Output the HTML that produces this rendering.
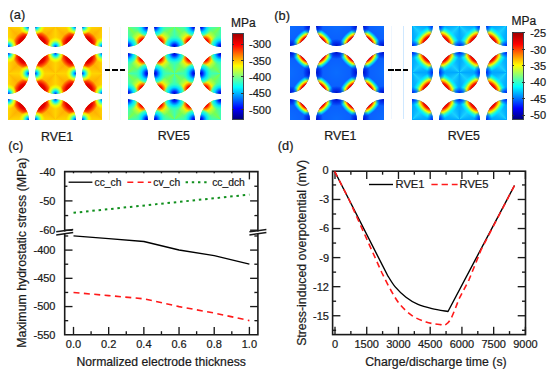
<!DOCTYPE html>
<html><head><meta charset="utf-8"><style>
*{margin:0;padding:0;box-sizing:border-box}
html,body{width:550px;height:374px;background:#fff;overflow:hidden}
body{position:relative;font-family:"Liberation Sans", sans-serif;color:#1a1a1a}
.t{position:absolute;white-space:nowrap;line-height:1;-webkit-text-stroke:0.22px #1a1a1a}
.rve{position:absolute;overflow:hidden}
.d{position:absolute;border-radius:50%;overflow:hidden}
.d i{position:absolute;left:0;top:0;right:0;bottom:0;border-radius:50%}
.d .rim{transform:rotate(45deg)}
/* RVE1 (a) */
.r1a .b{background:radial-gradient(circle closest-side, rgba(255,210,0,0.6) 0%, rgba(255,200,0,0) 60%), conic-gradient(#ffd400 0deg, #ffae00 45deg, #ffd400 90deg, #ffae00 135deg, #ffd400 180deg, #ffae00 225deg, #ffd400 270deg, #ffae00 315deg, #ffd400 360deg)}
.r1a .rim{background:radial-gradient(ellipse 12px 9px at 50% -0.5px, #d00000 0%, #e80000 42%, #ff5000 72%, rgba(255,170,0,0) 100%),radial-gradient(ellipse 12px 9px at 50% calc(100% + 0.5px), #d00000 0%, #e80000 42%, #ff5000 72%, rgba(255,170,0,0) 100%),radial-gradient(ellipse 9px 12px at -0.5px 50%, #d00000 0%, #e80000 42%, #ff5000 72%, rgba(255,170,0,0) 100%),radial-gradient(ellipse 9px 12px at calc(100% + 0.5px) 50%, #d00000 0%, #e80000 42%, #ff5000 72%, rgba(255,170,0,0) 100%)}
.r1a .sp{background:radial-gradient(ellipse 8.5px 10px at 50% 0, #0030ff 0%, #0090ff 16%, #00f0ff 32%, #80ff80 50%, #f0ff00 70%, rgba(255,210,0,0) 100%),radial-gradient(ellipse 8.5px 10px at 50% 100%, #0030ff 0%, #0090ff 16%, #00f0ff 32%, #80ff80 50%, #f0ff00 70%, rgba(255,210,0,0) 100%),radial-gradient(ellipse 10px 8.5px at 0 50%, #0030ff 0%, #0090ff 16%, #00f0ff 32%, #80ff80 50%, #f0ff00 70%, rgba(255,210,0,0) 100%),radial-gradient(ellipse 10px 8.5px at 100% 50%, #0030ff 0%, #0090ff 16%, #00f0ff 32%, #80ff80 50%, #f0ff00 70%, rgba(255,210,0,0) 100%)}
/* RVE5 (a) */
.r5a .b{background:conic-gradient(#40ffb0 0deg, #78ff50 45deg, #40ffb0 90deg, #78ff50 135deg, #40ffb0 180deg, #78ff50 225deg, #40ffb0 270deg, #78ff50 315deg, #40ffb0 360deg)}
.r5a .rim{background:radial-gradient(ellipse 14px 13px at 50% -1.5px, #e00000 0%, #ff1000 24%, #ff8000 38%, #f8f000 54%, #a8ff40 74%, rgba(100,255,100,0) 100%),radial-gradient(ellipse 14px 13px at 50% calc(100% + 1.5px), #e00000 0%, #ff1000 24%, #ff8000 38%, #f8f000 54%, #a8ff40 74%, rgba(100,255,100,0) 100%),radial-gradient(ellipse 13px 14px at -1.5px 50%, #e00000 0%, #ff1000 24%, #ff8000 38%, #f8f000 54%, #a8ff40 74%, rgba(100,255,100,0) 100%),radial-gradient(ellipse 13px 14px at calc(100% + 1.5px) 50%, #e00000 0%, #ff1000 24%, #ff8000 38%, #f8f000 54%, #a8ff40 74%, rgba(100,255,100,0) 100%)}
.r5a .sp{background:radial-gradient(ellipse 11px 12px at 50% 0, #0000c0 0%, #0020ff 22%, #0080ff 38%, #00e0ff 56%, #30ffc0 78%, rgba(60,255,140,0) 100%),radial-gradient(ellipse 11px 12px at 50% 100%, #0000c0 0%, #0020ff 22%, #0080ff 38%, #00e0ff 56%, #30ffc0 78%, rgba(60,255,140,0) 100%),radial-gradient(ellipse 12px 11px at 0 50%, #0000c0 0%, #0020ff 22%, #0080ff 38%, #00e0ff 56%, #30ffc0 78%, rgba(60,255,140,0) 100%),radial-gradient(ellipse 12px 11px at 100% 50%, #0000c0 0%, #0020ff 22%, #0080ff 38%, #00e0ff 56%, #30ffc0 78%, rgba(60,255,140,0) 100%)}
/* RVE1 (b) */
.r1b .b{background:radial-gradient(circle closest-side, #0a6cff 0%, #0a60ff 70%, #0650ff 100%)}
.r1b .rim{background:radial-gradient(ellipse 17px 10px at 50% -2px, #e00000 0%, #f41000 34%, #ff9000 46%, #f0ff00 57%, #50ff90 69%, #00d0ff 82%, rgba(0,120,255,0) 100%),radial-gradient(ellipse 17px 10px at 50% calc(100% + 2px), #e00000 0%, #f41000 34%, #ff9000 46%, #f0ff00 57%, #50ff90 69%, #00d0ff 82%, rgba(0,120,255,0) 100%),radial-gradient(ellipse 10px 17px at -2px 50%, #e00000 0%, #f41000 34%, #ff9000 46%, #f0ff00 57%, #50ff90 69%, #00d0ff 82%, rgba(0,120,255,0) 100%),radial-gradient(ellipse 10px 17px at calc(100% + 2px) 50%, #e00000 0%, #f41000 34%, #ff9000 46%, #f0ff00 57%, #50ff90 69%, #00d0ff 82%, rgba(0,120,255,0) 100%)}
.r1b .sp{background:radial-gradient(ellipse 10px 7px at 50% 0, #0010c0 0%, #0028e8 40%, rgba(10,96,255,0) 100%),radial-gradient(ellipse 10px 7px at 50% 100%, #0010c0 0%, #0028e8 40%, rgba(10,96,255,0) 100%),radial-gradient(ellipse 7px 10px at 0 50%, #0010c0 0%, #0028e8 40%, rgba(10,96,255,0) 100%),radial-gradient(ellipse 7px 10px at 100% 50%, #0010c0 0%, #0028e8 40%, rgba(10,96,255,0) 100%)}
/* RVE5 (b) */
.r5b .b{background:conic-gradient(#00a8ff 0deg, #18d0ff 45deg, #00a8ff 90deg, #18d0ff 135deg, #00a8ff 180deg, #18d0ff 225deg, #00a8ff 270deg, #18d0ff 315deg, #00a8ff 360deg)}
.r5b .rim{background:radial-gradient(ellipse 20px 13px at 50% -2px, #e00000 0%, #f41000 32%, #ff9000 44%, #f0ff00 55%, #60ff90 67%, #00f0ff 81%, rgba(0,200,255,0) 100%),radial-gradient(ellipse 20px 13px at 50% calc(100% + 2px), #e00000 0%, #f41000 32%, #ff9000 44%, #f0ff00 55%, #60ff90 67%, #00f0ff 81%, rgba(0,200,255,0) 100%),radial-gradient(ellipse 13px 20px at -2px 50%, #e00000 0%, #f41000 32%, #ff9000 44%, #f0ff00 55%, #60ff90 67%, #00f0ff 81%, rgba(0,200,255,0) 100%),radial-gradient(ellipse 13px 20px at calc(100% + 2px) 50%, #e00000 0%, #f41000 32%, #ff9000 44%, #f0ff00 55%, #60ff90 67%, #00f0ff 81%, rgba(0,200,255,0) 100%)}
.r5b .sp{background:radial-gradient(ellipse 9px 6px at 50% 0, #0020e0 0%, #0050ff 35%, rgba(0,176,255,0) 100%),radial-gradient(ellipse 9px 6px at 50% 100%, #0020e0 0%, #0050ff 35%, rgba(0,176,255,0) 100%),radial-gradient(ellipse 6px 9px at 0 50%, #0020e0 0%, #0050ff 35%, rgba(0,176,255,0) 100%),radial-gradient(ellipse 6px 9px at 100% 50%, #0020e0 0%, #0050ff 35%, rgba(0,176,255,0) 100%)}
.cb{position:absolute;border:1px solid #3c4650;background:linear-gradient(to bottom,#a00000 0%,#ff0000 13%,#ff8000 25%,#ffff00 37.5%,#00ffff 62.5%,#0000ff 87.5%,#000080 100%)}
.dash{position:absolute;height:2px;background:#000}
</style></head>
<body>
<svg width="550" height="374" viewBox="0 0 550 374" style="position:absolute;left:0;top:0" font-family="Liberation Sans, sans-serif" fill="#1a1a1a"><style>text{stroke:#1a1a1a;stroke-width:0.22px}</style><line x1="73.50" y1="334.70" x2="73.50" y2="326.90" stroke="#1a1a1a" stroke-width="1.35" />
<line x1="73.50" y1="171.60" x2="73.50" y2="179.40" stroke="#1a1a1a" stroke-width="1.35" />
<line x1="91.09" y1="334.70" x2="91.09" y2="331.20" stroke="#1a1a1a" stroke-width="1.35" />
<line x1="91.09" y1="171.60" x2="91.09" y2="175.10" stroke="#1a1a1a" stroke-width="1.35" />
<line x1="108.68" y1="334.70" x2="108.68" y2="326.90" stroke="#1a1a1a" stroke-width="1.35" />
<line x1="108.68" y1="171.60" x2="108.68" y2="179.40" stroke="#1a1a1a" stroke-width="1.35" />
<line x1="126.27" y1="334.70" x2="126.27" y2="331.20" stroke="#1a1a1a" stroke-width="1.35" />
<line x1="126.27" y1="171.60" x2="126.27" y2="175.10" stroke="#1a1a1a" stroke-width="1.35" />
<line x1="143.86" y1="334.70" x2="143.86" y2="326.90" stroke="#1a1a1a" stroke-width="1.35" />
<line x1="143.86" y1="171.60" x2="143.86" y2="179.40" stroke="#1a1a1a" stroke-width="1.35" />
<line x1="161.45" y1="334.70" x2="161.45" y2="331.20" stroke="#1a1a1a" stroke-width="1.35" />
<line x1="161.45" y1="171.60" x2="161.45" y2="175.10" stroke="#1a1a1a" stroke-width="1.35" />
<line x1="179.04" y1="334.70" x2="179.04" y2="326.90" stroke="#1a1a1a" stroke-width="1.35" />
<line x1="179.04" y1="171.60" x2="179.04" y2="179.40" stroke="#1a1a1a" stroke-width="1.35" />
<line x1="196.63" y1="334.70" x2="196.63" y2="331.20" stroke="#1a1a1a" stroke-width="1.35" />
<line x1="196.63" y1="171.60" x2="196.63" y2="175.10" stroke="#1a1a1a" stroke-width="1.35" />
<line x1="214.22" y1="334.70" x2="214.22" y2="326.90" stroke="#1a1a1a" stroke-width="1.35" />
<line x1="214.22" y1="171.60" x2="214.22" y2="179.40" stroke="#1a1a1a" stroke-width="1.35" />
<line x1="231.81" y1="334.70" x2="231.81" y2="331.20" stroke="#1a1a1a" stroke-width="1.35" />
<line x1="231.81" y1="171.60" x2="231.81" y2="175.10" stroke="#1a1a1a" stroke-width="1.35" />
<line x1="249.40" y1="334.70" x2="249.40" y2="326.90" stroke="#1a1a1a" stroke-width="1.35" />
<line x1="249.40" y1="171.60" x2="249.40" y2="179.40" stroke="#1a1a1a" stroke-width="1.35" />
<line x1="64.70" y1="186.25" x2="68.20" y2="186.25" stroke="#1a1a1a" stroke-width="1.35" />
<line x1="257.90" y1="186.25" x2="254.40" y2="186.25" stroke="#1a1a1a" stroke-width="1.35" />
<line x1="64.70" y1="200.90" x2="72.50" y2="200.90" stroke="#1a1a1a" stroke-width="1.35" />
<line x1="257.90" y1="200.90" x2="250.10" y2="200.90" stroke="#1a1a1a" stroke-width="1.35" />
<line x1="64.70" y1="215.55" x2="68.20" y2="215.55" stroke="#1a1a1a" stroke-width="1.35" />
<line x1="257.90" y1="215.55" x2="254.40" y2="215.55" stroke="#1a1a1a" stroke-width="1.35" />
<line x1="64.70" y1="230.20" x2="72.50" y2="230.20" stroke="#1a1a1a" stroke-width="1.35" />
<line x1="257.90" y1="230.20" x2="250.10" y2="230.20" stroke="#1a1a1a" stroke-width="1.35" />
<line x1="64.70" y1="235.98" x2="68.20" y2="235.98" stroke="#1a1a1a" stroke-width="1.35" />
<line x1="257.90" y1="235.98" x2="254.40" y2="235.98" stroke="#1a1a1a" stroke-width="1.35" />
<line x1="64.70" y1="250.10" x2="72.50" y2="250.10" stroke="#1a1a1a" stroke-width="1.35" />
<line x1="257.90" y1="250.10" x2="250.10" y2="250.10" stroke="#1a1a1a" stroke-width="1.35" />
<line x1="64.70" y1="264.22" x2="68.20" y2="264.22" stroke="#1a1a1a" stroke-width="1.35" />
<line x1="257.90" y1="264.22" x2="254.40" y2="264.22" stroke="#1a1a1a" stroke-width="1.35" />
<line x1="64.70" y1="278.33" x2="72.50" y2="278.33" stroke="#1a1a1a" stroke-width="1.35" />
<line x1="257.90" y1="278.33" x2="250.10" y2="278.33" stroke="#1a1a1a" stroke-width="1.35" />
<line x1="64.70" y1="292.45" x2="68.20" y2="292.45" stroke="#1a1a1a" stroke-width="1.35" />
<line x1="257.90" y1="292.45" x2="254.40" y2="292.45" stroke="#1a1a1a" stroke-width="1.35" />
<line x1="64.70" y1="306.57" x2="72.50" y2="306.57" stroke="#1a1a1a" stroke-width="1.35" />
<line x1="257.90" y1="306.57" x2="250.10" y2="306.57" stroke="#1a1a1a" stroke-width="1.35" />
<line x1="64.70" y1="320.68" x2="68.20" y2="320.68" stroke="#1a1a1a" stroke-width="1.35" />
<line x1="257.90" y1="320.68" x2="254.40" y2="320.68" stroke="#1a1a1a" stroke-width="1.35" />
<rect x="67.4" y="173.3" width="179.8" height="17.5" fill="#fff"/>
<path d="M64.7,233.79999999999998 L64.7,334.7 L257.9,334.7 L257.9,233.79999999999998 M257.9,230.6 L257.9,171.6 L64.7,171.6 L64.7,230.6" fill="none" stroke="#1a1a1a" stroke-width="1.6" stroke-linecap="square"/>
<line x1="56.20" y1="231.80" x2="73.20" y2="229.40" stroke="#1a1a1a" stroke-width="1.5" />
<line x1="56.20" y1="235.00" x2="73.20" y2="232.60" stroke="#1a1a1a" stroke-width="1.5" />
<line x1="249.40" y1="231.80" x2="266.40" y2="229.40" stroke="#1a1a1a" stroke-width="1.5" />
<line x1="249.40" y1="235.00" x2="266.40" y2="232.60" stroke="#1a1a1a" stroke-width="1.5" />
<text x="55.50" y="175.50" font-size="11" text-anchor="end" >-40</text>
<text x="55.50" y="204.80" font-size="11" text-anchor="end" >-50</text>
<text x="55.50" y="234.10" font-size="11" text-anchor="end" >-60</text>
<text x="55.50" y="254.00" font-size="11" text-anchor="end" >-400</text>
<text x="55.50" y="282.23" font-size="11" text-anchor="end" >-450</text>
<text x="55.50" y="310.47" font-size="11" text-anchor="end" >-500</text>
<text x="55.50" y="338.70" font-size="11" text-anchor="end" >-550</text>
<text x="73.50" y="347.60" font-size="11" text-anchor="middle" >0.0</text>
<text x="108.68" y="347.60" font-size="11" text-anchor="middle" >0.2</text>
<text x="143.86" y="347.60" font-size="11" text-anchor="middle" >0.4</text>
<text x="179.04" y="347.60" font-size="11" text-anchor="middle" >0.6</text>
<text x="214.22" y="347.60" font-size="11" text-anchor="middle" >0.8</text>
<text x="249.40" y="347.60" font-size="11" text-anchor="middle" >1.0</text>
<text x="161.20" y="366.20" font-size="12.2" text-anchor="middle" >Normalized electrode thickness</text>
<text x="0.00" y="0.00" font-size="12.35" text-anchor="middle" transform="translate(26.2,252.7) rotate(-90)">Maximum hydrostatic stress (MPa)</text>
<line x1="68.60" y1="182.20" x2="92.40" y2="182.20" stroke="#000" stroke-width="1.3" />
<text x="94.50" y="185.80" font-size="10.3" text-anchor="start" >cc_ch</text>
<line x1="127.30" y1="182.20" x2="151.20" y2="182.20" stroke="#ff1a1a" stroke-width="1.6" stroke-dasharray="6,4.3"/>
<text x="153.30" y="185.80" font-size="10.3" text-anchor="start" >cv_ch</text>
<line x1="185.60" y1="182.20" x2="208.00" y2="182.20" stroke="#11901e" stroke-width="2" stroke-dasharray="2.4,3.8"/>
<text x="212.20" y="185.80" font-size="10.3" text-anchor="start" >cc_dch</text>
<polyline points="73.50,235.90 108.68,238.60 143.86,241.50 179.04,250.00 214.22,255.60 249.40,264.20" fill="none" stroke="#000" stroke-width="1.3" stroke-linejoin="round" />
<polyline points="73.50,292.50 108.68,295.60 143.86,298.80 179.04,306.60 214.22,313.00 249.40,320.60" fill="none" stroke="#ff1a1a" stroke-width="1.6" stroke-linejoin="round" stroke-dasharray="6,4.4"/>
<polyline points="73.50,212.80 249.40,194.60" fill="none" stroke="#11901e" stroke-width="2" stroke-linejoin="round" stroke-dasharray="2.5,3.8"/>
<rect x="332.6" y="171.2" width="192.89999999999998" height="163.40000000000003" fill="none" stroke="#1a1a1a" stroke-width="1.6"/>
<line x1="335.00" y1="334.60" x2="335.00" y2="326.80" stroke="#1a1a1a" stroke-width="1.35" />
<line x1="335.00" y1="171.20" x2="335.00" y2="179.00" stroke="#1a1a1a" stroke-width="1.35" />
<line x1="350.87" y1="334.60" x2="350.87" y2="331.10" stroke="#1a1a1a" stroke-width="1.35" />
<line x1="350.87" y1="171.20" x2="350.87" y2="174.70" stroke="#1a1a1a" stroke-width="1.35" />
<line x1="366.73" y1="334.60" x2="366.73" y2="326.80" stroke="#1a1a1a" stroke-width="1.35" />
<line x1="366.73" y1="171.20" x2="366.73" y2="179.00" stroke="#1a1a1a" stroke-width="1.35" />
<line x1="382.60" y1="334.60" x2="382.60" y2="331.10" stroke="#1a1a1a" stroke-width="1.35" />
<line x1="382.60" y1="171.20" x2="382.60" y2="174.70" stroke="#1a1a1a" stroke-width="1.35" />
<line x1="398.47" y1="334.60" x2="398.47" y2="326.80" stroke="#1a1a1a" stroke-width="1.35" />
<line x1="398.47" y1="171.20" x2="398.47" y2="179.00" stroke="#1a1a1a" stroke-width="1.35" />
<line x1="414.33" y1="334.60" x2="414.33" y2="331.10" stroke="#1a1a1a" stroke-width="1.35" />
<line x1="414.33" y1="171.20" x2="414.33" y2="174.70" stroke="#1a1a1a" stroke-width="1.35" />
<line x1="430.20" y1="334.60" x2="430.20" y2="326.80" stroke="#1a1a1a" stroke-width="1.35" />
<line x1="430.20" y1="171.20" x2="430.20" y2="179.00" stroke="#1a1a1a" stroke-width="1.35" />
<line x1="446.07" y1="334.60" x2="446.07" y2="331.10" stroke="#1a1a1a" stroke-width="1.35" />
<line x1="446.07" y1="171.20" x2="446.07" y2="174.70" stroke="#1a1a1a" stroke-width="1.35" />
<line x1="461.93" y1="334.60" x2="461.93" y2="326.80" stroke="#1a1a1a" stroke-width="1.35" />
<line x1="461.93" y1="171.20" x2="461.93" y2="179.00" stroke="#1a1a1a" stroke-width="1.35" />
<line x1="477.80" y1="334.60" x2="477.80" y2="331.10" stroke="#1a1a1a" stroke-width="1.35" />
<line x1="477.80" y1="171.20" x2="477.80" y2="174.70" stroke="#1a1a1a" stroke-width="1.35" />
<line x1="493.67" y1="334.60" x2="493.67" y2="326.80" stroke="#1a1a1a" stroke-width="1.35" />
<line x1="493.67" y1="171.20" x2="493.67" y2="179.00" stroke="#1a1a1a" stroke-width="1.35" />
<line x1="509.53" y1="334.60" x2="509.53" y2="331.10" stroke="#1a1a1a" stroke-width="1.35" />
<line x1="509.53" y1="171.20" x2="509.53" y2="174.70" stroke="#1a1a1a" stroke-width="1.35" />
<line x1="525.40" y1="334.60" x2="525.40" y2="326.80" stroke="#1a1a1a" stroke-width="1.35" />
<line x1="525.40" y1="171.20" x2="525.40" y2="179.00" stroke="#1a1a1a" stroke-width="1.35" />
<line x1="332.60" y1="184.94" x2="336.10" y2="184.94" stroke="#1a1a1a" stroke-width="1.35" />
<line x1="525.50" y1="184.94" x2="522.00" y2="184.94" stroke="#1a1a1a" stroke-width="1.35" />
<line x1="332.60" y1="199.47" x2="340.40" y2="199.47" stroke="#1a1a1a" stroke-width="1.35" />
<line x1="525.50" y1="199.47" x2="517.70" y2="199.47" stroke="#1a1a1a" stroke-width="1.35" />
<line x1="332.60" y1="214.00" x2="336.10" y2="214.00" stroke="#1a1a1a" stroke-width="1.35" />
<line x1="525.50" y1="214.00" x2="522.00" y2="214.00" stroke="#1a1a1a" stroke-width="1.35" />
<line x1="332.60" y1="228.54" x2="340.40" y2="228.54" stroke="#1a1a1a" stroke-width="1.35" />
<line x1="525.50" y1="228.54" x2="517.70" y2="228.54" stroke="#1a1a1a" stroke-width="1.35" />
<line x1="332.60" y1="243.07" x2="336.10" y2="243.07" stroke="#1a1a1a" stroke-width="1.35" />
<line x1="525.50" y1="243.07" x2="522.00" y2="243.07" stroke="#1a1a1a" stroke-width="1.35" />
<line x1="332.60" y1="257.61" x2="340.40" y2="257.61" stroke="#1a1a1a" stroke-width="1.35" />
<line x1="525.50" y1="257.61" x2="517.70" y2="257.61" stroke="#1a1a1a" stroke-width="1.35" />
<line x1="332.60" y1="272.14" x2="336.10" y2="272.14" stroke="#1a1a1a" stroke-width="1.35" />
<line x1="525.50" y1="272.14" x2="522.00" y2="272.14" stroke="#1a1a1a" stroke-width="1.35" />
<line x1="332.60" y1="286.68" x2="340.40" y2="286.68" stroke="#1a1a1a" stroke-width="1.35" />
<line x1="525.50" y1="286.68" x2="517.70" y2="286.68" stroke="#1a1a1a" stroke-width="1.35" />
<line x1="332.60" y1="301.22" x2="336.10" y2="301.22" stroke="#1a1a1a" stroke-width="1.35" />
<line x1="525.50" y1="301.22" x2="522.00" y2="301.22" stroke="#1a1a1a" stroke-width="1.35" />
<line x1="332.60" y1="315.75" x2="340.40" y2="315.75" stroke="#1a1a1a" stroke-width="1.35" />
<line x1="525.50" y1="315.75" x2="517.70" y2="315.75" stroke="#1a1a1a" stroke-width="1.35" />
<line x1="332.60" y1="330.28" x2="336.10" y2="330.28" stroke="#1a1a1a" stroke-width="1.35" />
<line x1="525.50" y1="330.28" x2="522.00" y2="330.28" stroke="#1a1a1a" stroke-width="1.35" />
<text x="328.60" y="174.30" font-size="11" text-anchor="end" >0</text>
<text x="329.00" y="203.37" font-size="11" text-anchor="end" >-3</text>
<text x="329.00" y="232.44" font-size="11" text-anchor="end" >-6</text>
<text x="329.00" y="261.51" font-size="11" text-anchor="end" >-9</text>
<text x="329.00" y="290.58" font-size="11" text-anchor="end" >-12</text>
<text x="329.00" y="319.65" font-size="11" text-anchor="end" >-15</text>
<text x="335.00" y="347.80" font-size="11" text-anchor="middle" >0</text>
<text x="366.73" y="347.80" font-size="11" text-anchor="middle" >1500</text>
<text x="398.47" y="347.80" font-size="11" text-anchor="middle" >3000</text>
<text x="430.20" y="347.80" font-size="11" text-anchor="middle" >4500</text>
<text x="461.93" y="347.80" font-size="11" text-anchor="middle" >6000</text>
<text x="493.67" y="347.80" font-size="11" text-anchor="middle" >7500</text>
<text x="525.40" y="347.80" font-size="11" text-anchor="middle" >9000</text>
<text x="435.90" y="366.20" font-size="12.3" text-anchor="middle" >Charge/discharge time (s)</text>
<text x="0.00" y="0.00" font-size="12.3" text-anchor="middle" transform="translate(306.4,252.9) rotate(-90)">Stress-induced overpotential (mV)</text>
<line x1="369.00" y1="184.50" x2="393.00" y2="184.50" stroke="#000" stroke-width="1.4" />
<text x="395.50" y="188.40" font-size="11.2" text-anchor="start" >RVE1</text>
<line x1="431.40" y1="184.50" x2="457.60" y2="184.50" stroke="#ff1a1a" stroke-width="1.6" stroke-dasharray="6.3,3.9"/>
<text x="459.50" y="188.40" font-size="11.2" text-anchor="start" >RVE5</text>
<path d="M334.6,171.3 L387.5,275.3  C388.75,277.18 391.92,282.95 395.00,286.60 C398.08,290.25 402.17,294.23 406.00,297.20 C409.83,300.17 413.67,302.50 418.00,304.40 C422.33,306.30 427.00,307.42 432.00,308.60 C437.00,309.78 445.33,311.02 448.00,311.50 L514.5,185.5" fill="none" stroke="#000" stroke-width="1.4" stroke-linejoin="round"/>
<path d="M334.6,171.3 L349,199.5 L382,273  C383.50,275.92 388.00,285.25 391.00,290.50 C394.00,295.75 396.50,300.32 400.00,304.50 C403.50,308.68 407.67,312.68 412.00,315.60 C416.33,318.52 421.33,320.50 426.00,322.00 C430.67,323.50 436.67,324.20 440.00,324.60 C443.33,325.00 444.08,325.58 446.00,324.40 C447.92,323.22 449.33,321.73 451.50,317.50 C453.67,313.27 457.75,302.08 459.00,299.00 L469,279.8 L481,250 L514.5,185.5" fill="none" stroke="#ff1a1a" stroke-width="1.6" stroke-linejoin="round" stroke-dasharray="6,4"/></svg>
<div class="t" style="left:9.6px;top:8.5px;font-size:12.8px;">(a)</div>
<div class="t" style="left:274.3px;top:9.7px;font-size:12.8px;">(b)</div>
<div class="t" style="left:8.3px;top:140.1px;font-size:12.8px;">(c)</div>
<div class="t" style="left:277.8px;top:139.8px;font-size:12.8px;">(d)</div>
<div class="rve r1a" style="left:8px;top:26.5px;width:94px;height:93.2px">
<div class="d" style="left:-20.50px;top:-20.50px;width:41.00px;height:41.00px"><i class="b"></i><i class="rim"></i><i class="sp"></i></div>
<div class="d" style="left:26.50px;top:-20.50px;width:41.00px;height:41.00px"><i class="b"></i><i class="rim"></i><i class="sp"></i></div>
<div class="d" style="left:73.50px;top:-20.50px;width:41.00px;height:41.00px"><i class="b"></i><i class="rim"></i><i class="sp"></i></div>
<div class="d" style="left:-20.50px;top:26.10px;width:41.00px;height:41.00px"><i class="b"></i><i class="rim"></i><i class="sp"></i></div>
<div class="d" style="left:26.50px;top:26.10px;width:41.00px;height:41.00px"><i class="b"></i><i class="rim"></i><i class="sp"></i></div>
<div class="d" style="left:73.50px;top:26.10px;width:41.00px;height:41.00px"><i class="b"></i><i class="rim"></i><i class="sp"></i></div>
<div class="d" style="left:-20.50px;top:72.70px;width:41.00px;height:41.00px"><i class="b"></i><i class="rim"></i><i class="sp"></i></div>
<div class="d" style="left:26.50px;top:72.70px;width:41.00px;height:41.00px"><i class="b"></i><i class="rim"></i><i class="sp"></i></div>
<div class="d" style="left:73.50px;top:72.70px;width:41.00px;height:41.00px"><i class="b"></i><i class="rim"></i><i class="sp"></i></div>
</div>
<div class="rve r5a" style="left:127.8px;top:26.5px;width:93px;height:93.2px">
<div class="d" style="left:-20.50px;top:-20.50px;width:41.00px;height:41.00px"><i class="b"></i><i class="rim"></i><i class="sp"></i></div>
<div class="d" style="left:26.00px;top:-20.50px;width:41.00px;height:41.00px"><i class="b"></i><i class="rim"></i><i class="sp"></i></div>
<div class="d" style="left:72.50px;top:-20.50px;width:41.00px;height:41.00px"><i class="b"></i><i class="rim"></i><i class="sp"></i></div>
<div class="d" style="left:-20.50px;top:26.10px;width:41.00px;height:41.00px"><i class="b"></i><i class="rim"></i><i class="sp"></i></div>
<div class="d" style="left:26.00px;top:26.10px;width:41.00px;height:41.00px"><i class="b"></i><i class="rim"></i><i class="sp"></i></div>
<div class="d" style="left:72.50px;top:26.10px;width:41.00px;height:41.00px"><i class="b"></i><i class="rim"></i><i class="sp"></i></div>
<div class="d" style="left:-20.50px;top:72.70px;width:41.00px;height:41.00px"><i class="b"></i><i class="rim"></i><i class="sp"></i></div>
<div class="d" style="left:26.00px;top:72.70px;width:41.00px;height:41.00px"><i class="b"></i><i class="rim"></i><i class="sp"></i></div>
<div class="d" style="left:72.50px;top:72.70px;width:41.00px;height:41.00px"><i class="b"></i><i class="rim"></i><i class="sp"></i></div>
</div>
<div class="rve r1b" style="left:289.7px;top:25.8px;width:94.2px;height:93.9px">
<div class="d" style="left:-20.50px;top:-20.50px;width:41.00px;height:41.00px"><i class="b"></i><i class="rim"></i><i class="sp"></i></div>
<div class="d" style="left:26.60px;top:-20.50px;width:41.00px;height:41.00px"><i class="b"></i><i class="rim"></i><i class="sp"></i></div>
<div class="d" style="left:73.70px;top:-20.50px;width:41.00px;height:41.00px"><i class="b"></i><i class="rim"></i><i class="sp"></i></div>
<div class="d" style="left:-20.50px;top:26.45px;width:41.00px;height:41.00px"><i class="b"></i><i class="rim"></i><i class="sp"></i></div>
<div class="d" style="left:26.60px;top:26.45px;width:41.00px;height:41.00px"><i class="b"></i><i class="rim"></i><i class="sp"></i></div>
<div class="d" style="left:73.70px;top:26.45px;width:41.00px;height:41.00px"><i class="b"></i><i class="rim"></i><i class="sp"></i></div>
<div class="d" style="left:-20.50px;top:73.40px;width:41.00px;height:41.00px"><i class="b"></i><i class="rim"></i><i class="sp"></i></div>
<div class="d" style="left:26.60px;top:73.40px;width:41.00px;height:41.00px"><i class="b"></i><i class="rim"></i><i class="sp"></i></div>
<div class="d" style="left:73.70px;top:73.40px;width:41.00px;height:41.00px"><i class="b"></i><i class="rim"></i><i class="sp"></i></div>
</div>
<div class="rve r5b" style="left:412.3px;top:25.8px;width:94.7px;height:93.9px">
<div class="d" style="left:-20.50px;top:-20.50px;width:41.00px;height:41.00px"><i class="b"></i><i class="rim"></i><i class="sp"></i></div>
<div class="d" style="left:26.85px;top:-20.50px;width:41.00px;height:41.00px"><i class="b"></i><i class="rim"></i><i class="sp"></i></div>
<div class="d" style="left:74.20px;top:-20.50px;width:41.00px;height:41.00px"><i class="b"></i><i class="rim"></i><i class="sp"></i></div>
<div class="d" style="left:-20.50px;top:26.45px;width:41.00px;height:41.00px"><i class="b"></i><i class="rim"></i><i class="sp"></i></div>
<div class="d" style="left:26.85px;top:26.45px;width:41.00px;height:41.00px"><i class="b"></i><i class="rim"></i><i class="sp"></i></div>
<div class="d" style="left:74.20px;top:26.45px;width:41.00px;height:41.00px"><i class="b"></i><i class="rim"></i><i class="sp"></i></div>
<div class="d" style="left:-20.50px;top:73.40px;width:41.00px;height:41.00px"><i class="b"></i><i class="rim"></i><i class="sp"></i></div>
<div class="d" style="left:26.85px;top:73.40px;width:41.00px;height:41.00px"><i class="b"></i><i class="rim"></i><i class="sp"></i></div>
<div class="d" style="left:74.20px;top:73.40px;width:41.00px;height:41.00px"><i class="b"></i><i class="rim"></i><i class="sp"></i></div>
</div>
<div style="position:absolute;left:109.3px;top:26.5px;width:1px;height:93px;background:#fff5c8"></div>
<div style="position:absolute;left:119.5px;top:26.5px;width:1px;height:93px;background:#f6fbff"></div>
<div style="position:absolute;left:391.2px;top:26px;width:1px;height:93px;background:#eef6ff"></div>
<div style="position:absolute;left:403.3px;top:26px;width:1px;height:93px;background:#cfe8ff"></div>
<div class="dash" style="left:105px;top:69.2px;width:5.400000000000006px"></div>
<div class="dash" style="left:112px;top:69.2px;width:5.799999999999997px"></div>
<div class="dash" style="left:119.6px;top:69.2px;width:5.700000000000003px"></div>
<div class="dash" style="left:387.9px;top:69.1px;width:5.800000000000011px"></div>
<div class="dash" style="left:394.9px;top:69.1px;width:6.2000000000000455px"></div>
<div class="dash" style="left:402.7px;top:69.1px;width:5.699999999999989px"></div>
<div class="cb" style="left:231.7px;top:32.7px;width:12.200000000000017px;height:87.2px"></div>
<div style="position:absolute;left:231.7px;top:43.8px;width:2.5px;height:1px;background:#333"></div>
<div style="position:absolute;left:241.4px;top:43.8px;width:2.5px;height:1px;background:#333"></div>
<div style="position:absolute;left:231.7px;top:60.1px;width:2.5px;height:1px;background:#333"></div>
<div style="position:absolute;left:241.4px;top:60.1px;width:2.5px;height:1px;background:#333"></div>
<div style="position:absolute;left:231.7px;top:76.4px;width:2.5px;height:1px;background:#333"></div>
<div style="position:absolute;left:241.4px;top:76.4px;width:2.5px;height:1px;background:#333"></div>
<div style="position:absolute;left:231.7px;top:92.7px;width:2.5px;height:1px;background:#333"></div>
<div style="position:absolute;left:241.4px;top:92.7px;width:2.5px;height:1px;background:#333"></div>
<div style="position:absolute;left:231.7px;top:108.9px;width:2.5px;height:1px;background:#333"></div>
<div style="position:absolute;left:241.4px;top:108.9px;width:2.5px;height:1px;background:#333"></div>
<div class="t" style="left:249.0px;top:39.4px;font-size:11px;">-300</div>
<div class="t" style="left:249.0px;top:55.7px;font-size:11px;">-350</div>
<div class="t" style="left:249.0px;top:72.0px;font-size:11px;">-400</div>
<div class="t" style="left:249.0px;top:88.3px;font-size:11px;">-450</div>
<div class="t" style="left:249.0px;top:104.5px;font-size:11px;">-500</div>
<div class="t" style="left:231px;top:17.4px;font-size:12px;">MPa</div>
<div class="cb" style="left:511.8px;top:31.6px;width:12.699999999999989px;height:88.19999999999999px"></div>
<div style="position:absolute;left:511.8px;top:32.3px;width:2.5px;height:1px;background:#333"></div>
<div style="position:absolute;left:522.0px;top:32.3px;width:2.5px;height:1px;background:#333"></div>
<div style="position:absolute;left:511.8px;top:48.9px;width:2.5px;height:1px;background:#333"></div>
<div style="position:absolute;left:522.0px;top:48.9px;width:2.5px;height:1px;background:#333"></div>
<div style="position:absolute;left:511.8px;top:65.3px;width:2.5px;height:1px;background:#333"></div>
<div style="position:absolute;left:522.0px;top:65.3px;width:2.5px;height:1px;background:#333"></div>
<div style="position:absolute;left:511.8px;top:81.7px;width:2.5px;height:1px;background:#333"></div>
<div style="position:absolute;left:522.0px;top:81.7px;width:2.5px;height:1px;background:#333"></div>
<div style="position:absolute;left:511.8px;top:98.0px;width:2.5px;height:1px;background:#333"></div>
<div style="position:absolute;left:522.0px;top:98.0px;width:2.5px;height:1px;background:#333"></div>
<div style="position:absolute;left:511.8px;top:114.5px;width:2.5px;height:1px;background:#333"></div>
<div style="position:absolute;left:522.0px;top:114.5px;width:2.5px;height:1px;background:#333"></div>
<div class="t" style="left:530.2px;top:27.9px;font-size:11px;">-25</div>
<div class="t" style="left:530.2px;top:44.5px;font-size:11px;">-30</div>
<div class="t" style="left:530.2px;top:60.9px;font-size:11px;">-35</div>
<div class="t" style="left:530.2px;top:77.3px;font-size:11px;">-40</div>
<div class="t" style="left:530.2px;top:93.6px;font-size:11px;">-45</div>
<div class="t" style="left:530.2px;top:110.1px;font-size:11px;">-50</div>
<div class="t" style="left:511.6px;top:14.9px;font-size:12px;">MPa</div>
<div class="t" style="left:41px;top:130.6px;font-size:12.4px;">RVE1</div>
<div class="t" style="left:157.8px;top:130.4px;font-size:12.4px;">RVE5</div>
<div class="t" style="left:324.2px;top:130.2px;font-size:12.4px;">RVE1</div>
<div class="t" style="left:447.8px;top:130.0px;font-size:12.4px;">RVE5</div>
</body></html>
